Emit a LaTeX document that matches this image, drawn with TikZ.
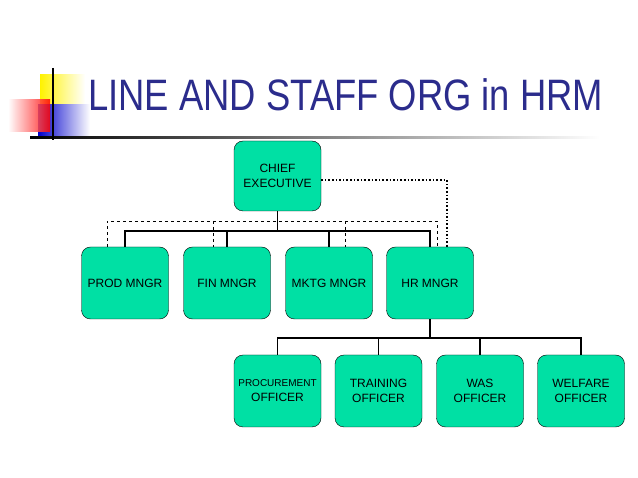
\documentclass[tikz,border=0pt]{standalone}
\usepackage{fontspec}
\usepackage{graphicx}
\setmainfont{Liberation Sans}
\begin{document}
\begin{tikzpicture}[x=1pt,y=-1pt,
  box/.style={draw=black,fill=boxc,rounded corners=9pt,minimum width=87pt,minimum height=72pt,inner sep=1pt,align=center,font=\fontsize{12}{15}\selectfont},
  lin/.style={line width=1.6pt},
  stf/.style={dashed,line width=0.7pt},
  dot/.style={dotted,line width=1.6pt}]
\definecolor{boxc}{HTML}{00E0A4}
\definecolor{titc}{HTML}{2B2C8C}
\useasboundingbox (0,0) rectangle (638,478);
% logo
\shade[left color=yellow!90!orange,right color=white] (40,75) rectangle (85,115);
\shade[left color=blue!80!black,right color=white] (38,105) rectangle (90,138);
\shade[left color=white,right color=red,opacity=0.85] (8,100) rectangle (50,132);
\shade[left color=black,right color=white] (30,137) rectangle (600,139);
\draw[line width=1.2pt] (53,68) -- (53,140);
\node[anchor=west,text=titc,font=\fontsize{44}{50}\selectfont,inner sep=0] (title) at (88,95) {\resizebox{515pt}{\height}{LINE AND STAFF ORG in HRM}};
% boxes
\node[box,minimum height=70pt] (ce) at (277.5,176) {CHIEF\\EXECUTIVE};
\node[box] (prod) at (125,283) {PROD MNGR};
\node[box] (fin) at (227,283) {FIN MNGR};
\node[box] (mktg) at (329,283) {MKTG MNGR};
\node[box] (hr) at (430,283) {HR MNGR};
\node[box] (proc) at (277.5,391) {{\fontsize{10}{12}\selectfont PROCUREMENT}\\OFFICER};
\node[box] (tr) at (378.5,391) {TRAINING\\OFFICER};
\node[box] (was) at (480,391) {WAS\\OFFICER};
\node[box] (wel) at (581,391) {WELFARE\\OFFICER};
% staff dashed
\coordinate (d1) at (107,221);
\coordinate (d2) at (437,221);
\draw[stf] (d1 |- prod.north) -- (d1) -- (d2) -- (d2 |- hr.north);
\draw[stf] (213,221) -- (213,247);
\draw[stf] (345,221) -- (345,247);
\draw[dot] (ce.east |- 0,180) -| (447,247);
% line
\coordinate (h1) at (0,231);
\draw[lin] (ce.south) -- (ce.south |- h1);
\draw[lin] (prod.north) -- (prod.north |- h1) -- (hr.north |- h1) -- (hr.north);
\draw[lin] (fin.north) -- (fin.north |- h1);
\draw[lin] (mktg.north) -- (mktg.north |- h1);
\coordinate (h2) at (0,338);
\draw[lin] (hr.south) -- (hr.south |- h2);
\draw[lin] (proc.north) -- (proc.north |- h2) -- (wel.north |- h2) -- (wel.north);
\draw[lin] (tr.north) -- (tr.north |- h2);
\draw[lin] (was.north) -- (was.north |- h2);
\end{tikzpicture}
\end{document}
